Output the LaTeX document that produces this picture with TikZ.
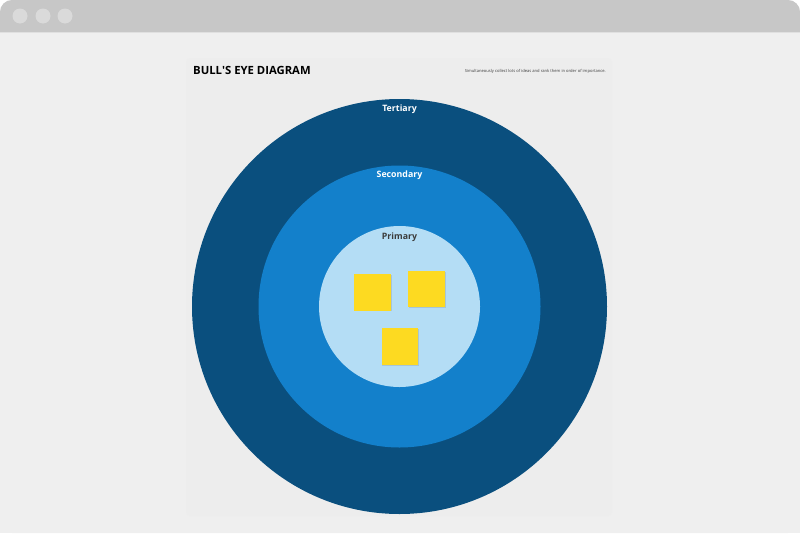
\documentclass[tikz,border=0pt]{standalone}
\usepackage{fontspec}
\setmainfont{Open Sans}
\usetikzlibrary{shadows}
\definecolor{bgc}{HTML}{EFEFEF}
\definecolor{barc}{HTML}{C7C7C7}
\definecolor{dotc}{HTML}{DADADA}
\definecolor{panelc}{HTML}{EDEDED}
\definecolor{ring3}{HTML}{0A4F7E}
\definecolor{ring2}{HTML}{1380CB}
\definecolor{ring1}{HTML}{B4DDF5}
\definecolor{stickyc}{HTML}{FDDA21}
\definecolor{darktxt}{HTML}{3C3C3C}
\tikzset{
  ring/.style={circle, inner sep=0pt, draw=none},
  sticky/.style={rectangle, fill=stickyc, minimum size=36.7pt, inner sep=0pt,
     drop shadow={shadow xshift=0.6pt, shadow yshift=-0.8pt, opacity=0.25}},
  ringlabel/.style={font=\bfseries\fontsize{8.8}{10}\selectfont, anchor=base},
  dot/.style={circle, fill=dotc, minimum size=15pt, inner sep=0pt}
}
\begin{document}
\begin{tikzpicture}[x=1pt,y=-1pt]
\useasboundingbox (0,0) rectangle (800,533);
% window
\fill[bgc, rounded corners=12pt] (0,0) rectangle (800,533);
\fill[barc, rounded corners=12pt] (0,0) rectangle (800,40);
\fill[barc] (0,20) rectangle (800,32);
\fill[bgc] (0,32) rectangle (800,533);
\draw[white!88!black, line width=0.8pt] (0,32.4) -- (800,32.4);
\node[dot] (d1) at (20,16) {};
\node[dot] (d2) at (43,16) {};
\node[dot] (d3) at (65,16) {};
% board panel
\fill[panelc, rounded corners=4pt] (186,58) rectangle (612,516);
% title
\node[anchor=base west, inner sep=0pt, font=\bfseries\fontsize{11.3}{13}\selectfont] (title) at (193,74) {BULL\textquotesingle S EYE DIAGRAM};
\node[anchor=base east, inner sep=0pt, text=darktxt, font=\fontsize{4.1}{5}\selectfont] (sub) at (606,72) {Simultaneously collect lots of ideas and rank them in order of importance.};
% rings
\node[ring, fill=ring3, minimum size=415pt] (tert) at (399.5,306.5) {};
\node[ring, fill=ring2, minimum size=282pt] (sec) at (399.5,306.5) {};
\node[ring, fill=ring1, minimum size=161pt] (prim) at (399.5,306.5) {};
\node[ringlabel, text=white] (lt) at (399.5,111.7) {Tertiary};
\node[ringlabel, text=white] (ls) at (399.5,177.3) {Secondary};
\node[ringlabel, text=darktxt] (lp) at (399.5,239.5) {Primary};
% stickies
\node[sticky] (s1) at (372.6,292.3) {};
\node[sticky] (s2) at (426.8,289.1) {};
\node[sticky] (s3) at (400.0,346.6) {};
\end{tikzpicture}
\end{document}
